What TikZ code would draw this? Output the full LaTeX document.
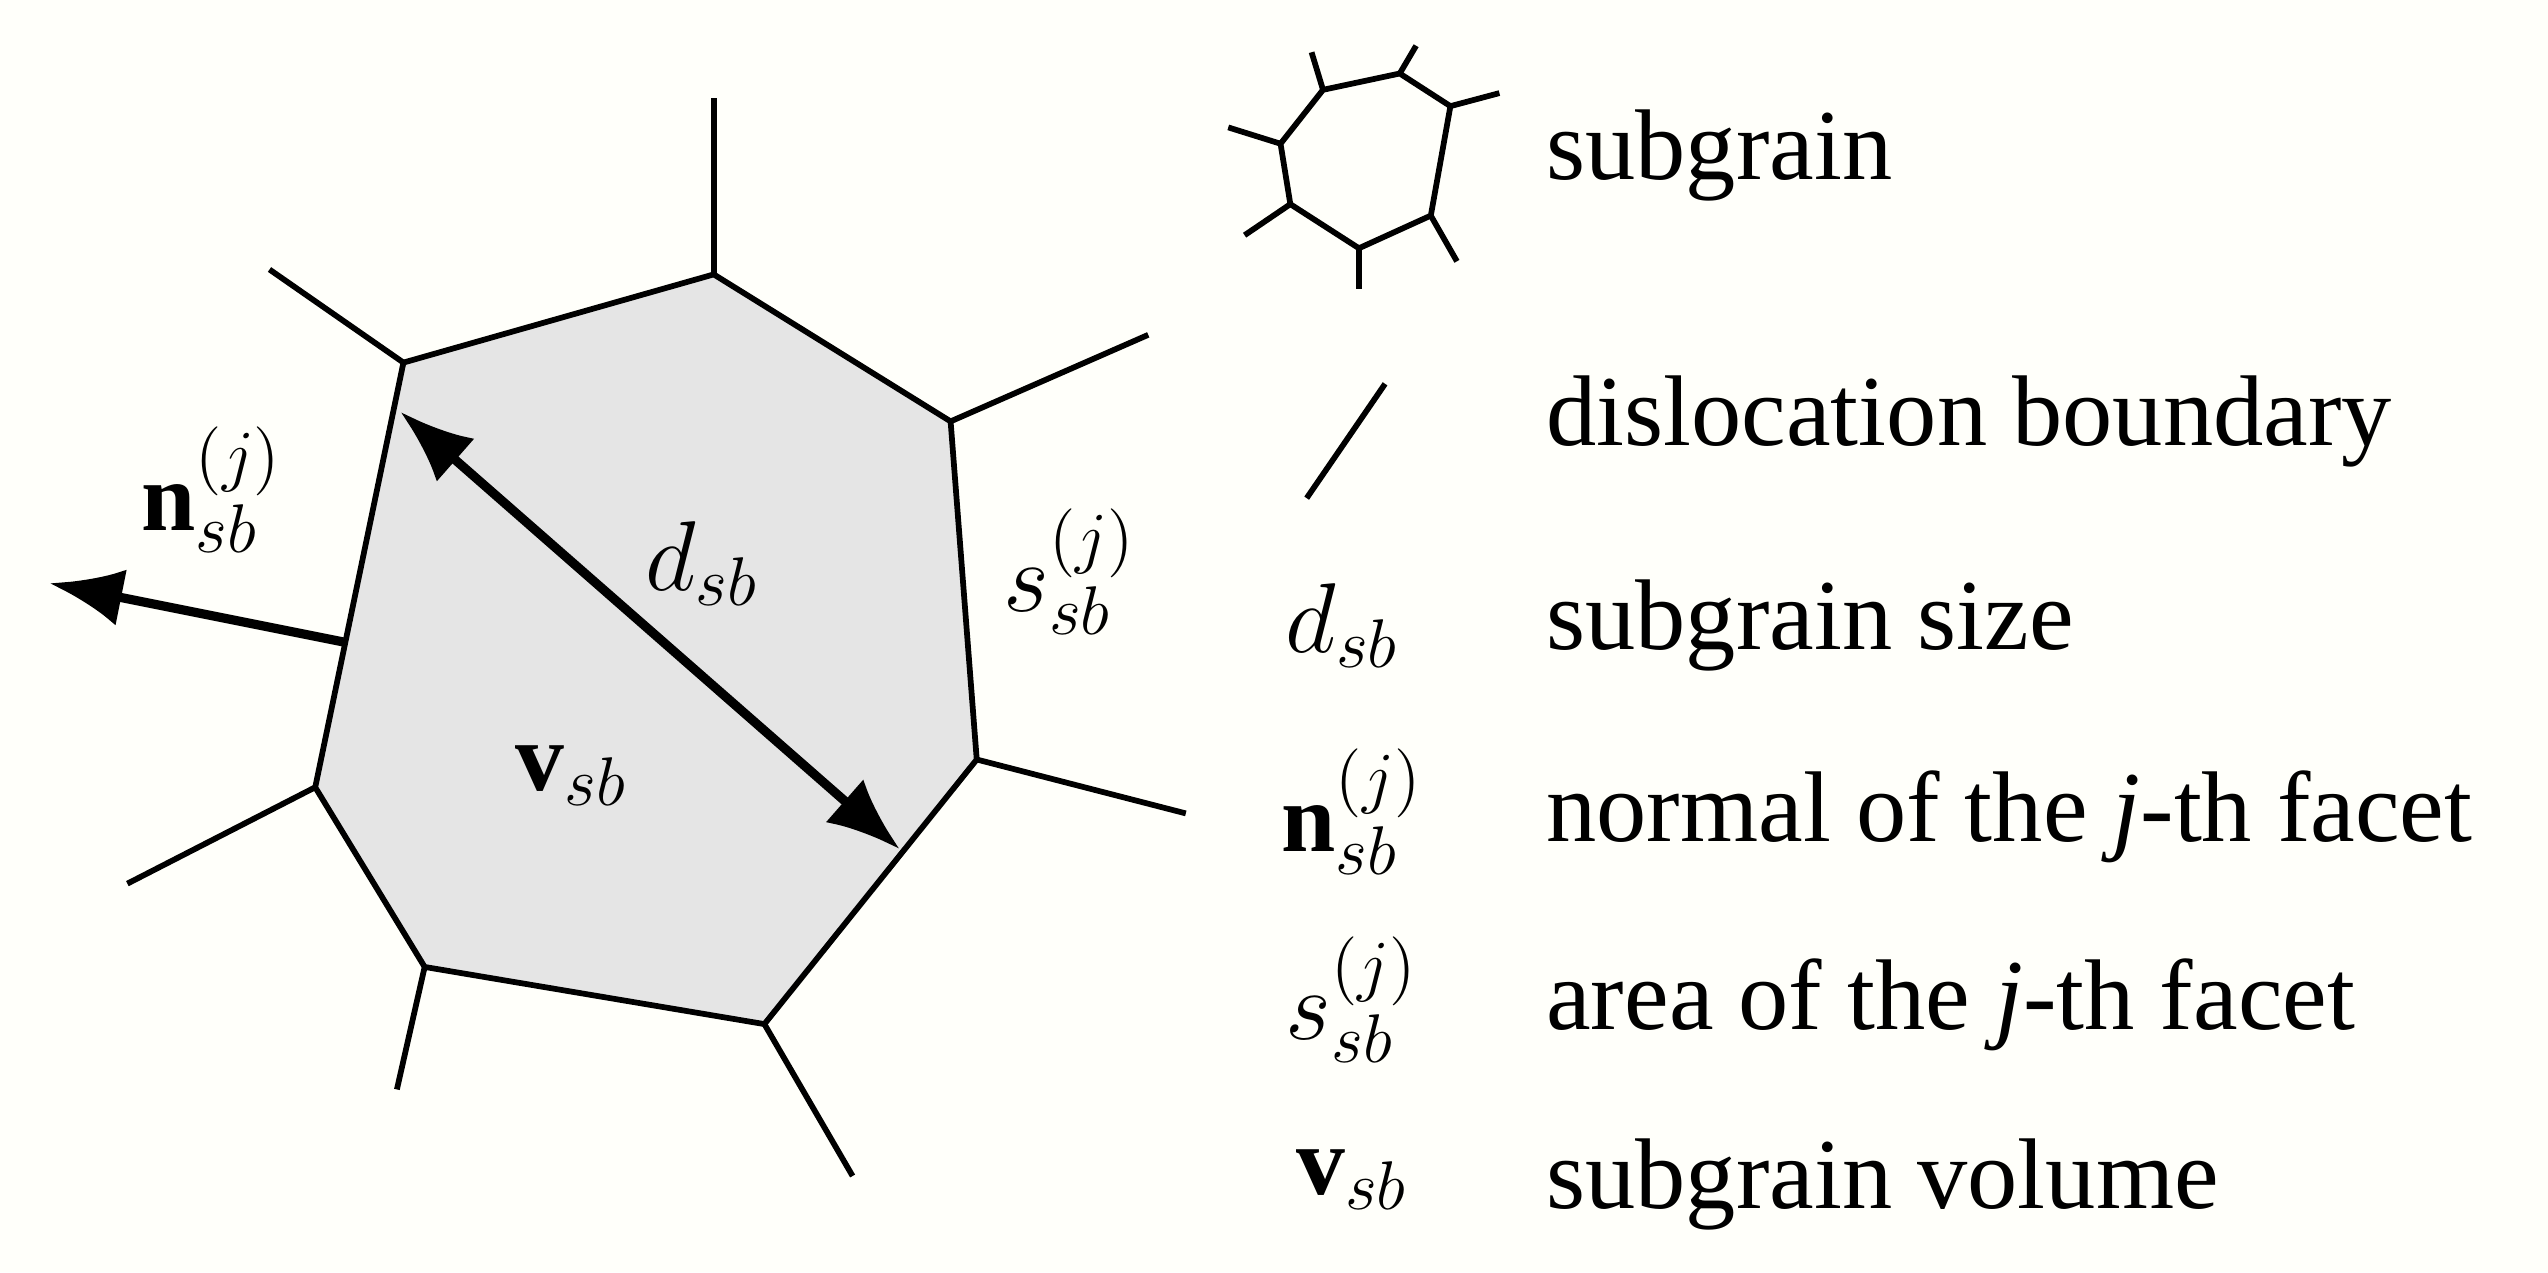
\documentclass[tikz,border=0pt]{standalone}
\usepackage{fontspec}
\setmainfont{Liberation Serif}
\usetikzlibrary{arrows.meta}
\begin{document}
\begin{tikzpicture}[x=0.1mm,y=-0.1mm,line width=1pt,
  lbl/.style={font=\fontsize{17.5}{21}\selectfont,anchor=west,inner sep=0},
  sym/.style={font=\fontsize{17}{20}\selectfont,inner sep=0},
  tip/.style={line width=1.6pt,-{Latex[length=4.5mm,width=3.5mm]}}]
\fill[white!98!yellow] (0,0) rectangle (1560,779);
\useasboundingbox (0,0) rectangle (1560,779);
% polygon
\coordinate (A) at (247,222); \coordinate (B) at (437,168); \coordinate (C) at (582,258);
\coordinate (D) at (598,465); \coordinate (E) at (468,627); \coordinate (F) at (260,592);
\coordinate (G) at (193,482);
\filldraw[fill=black!10] (A)--(B)--(C)--(D)--(E)--(F)--(G)--cycle;
\draw (A)--(165,165); \draw (B)--(437,60); \draw (C)--(703,205); \draw (D)--(726,498);
\draw (E)--(522,720); \draw (F)--(243,667); \draw (G)--(78,541);
\coordinate (N0) at (210,393); \coordinate (N1) at (30,357);
\draw[tip] (N0)--(N1);
\coordinate (D0) at (245,252); \coordinate (D1) at (551,520);
\draw[line width=1.6pt,{Latex[length=4.5mm,width=3.5mm]}-{Latex[length=4.5mm,width=3.5mm]}] (D0)--(D1);
\node[sym] (ln) at (130,300) {$\mathbf{n}_{sb}^{(j)}$};
\node[sym] (ld) at (430,345) {$d_{sb}$};
\node[sym] (ls) at (655,350) {$s_{sb}^{(j)}$};
\node[sym] (lv) at (350,475) {$\mathbf{v}_{sb}$};
% legend icon
\coordinate (P1) at (784,88); \coordinate (P2) at (810,55); \coordinate (P3) at (857,45);
\coordinate (P4) at (888,65); \coordinate (P5) at (876,132); \coordinate (P6) at (832,152);
\coordinate (P7) at (790,125);
\draw (P1)--(P2)--(P3)--(P4)--(P5)--(P6)--(P7)--cycle;
\draw (P1)--(752,78); \draw (P2)--(803,32); \draw (P3)--(867,28); \draw (P4)--(918,57);
\draw (P5)--(892,160); \draw (P6)--(832,177); \draw (P7)--(762,144);
\coordinate (L0) at (800,305); \coordinate (L1) at (848,235);
\draw (L0)--(L1);
\node[lbl] (t1) at (945,95) {subgrain};
\node[lbl] (t2) at (945,258) {dislocation boundary};
\node[sym] (s3) at (822,383) {$d_{sb}$};
\node[lbl] (t3) at (945,383) {subgrain size};
\node[sym] (s4) at (828,497) {$\mathbf{n}_{sb}^{(j)}$};
\node[lbl] (t4) at (945,500) {normal of the \textit{j}-th facet};
\node[sym] (s5) at (828,612) {$s_{sb}^{(j)}$};
\node[lbl] (t5) at (945,615) {area of the \textit{j}-th facet};
\node[sym] (s6) at (828,722) {$\mathbf{v}_{sb}$};
\node[lbl] (t6) at (945,725) {subgrain volume};
\end{tikzpicture}
\end{document}
